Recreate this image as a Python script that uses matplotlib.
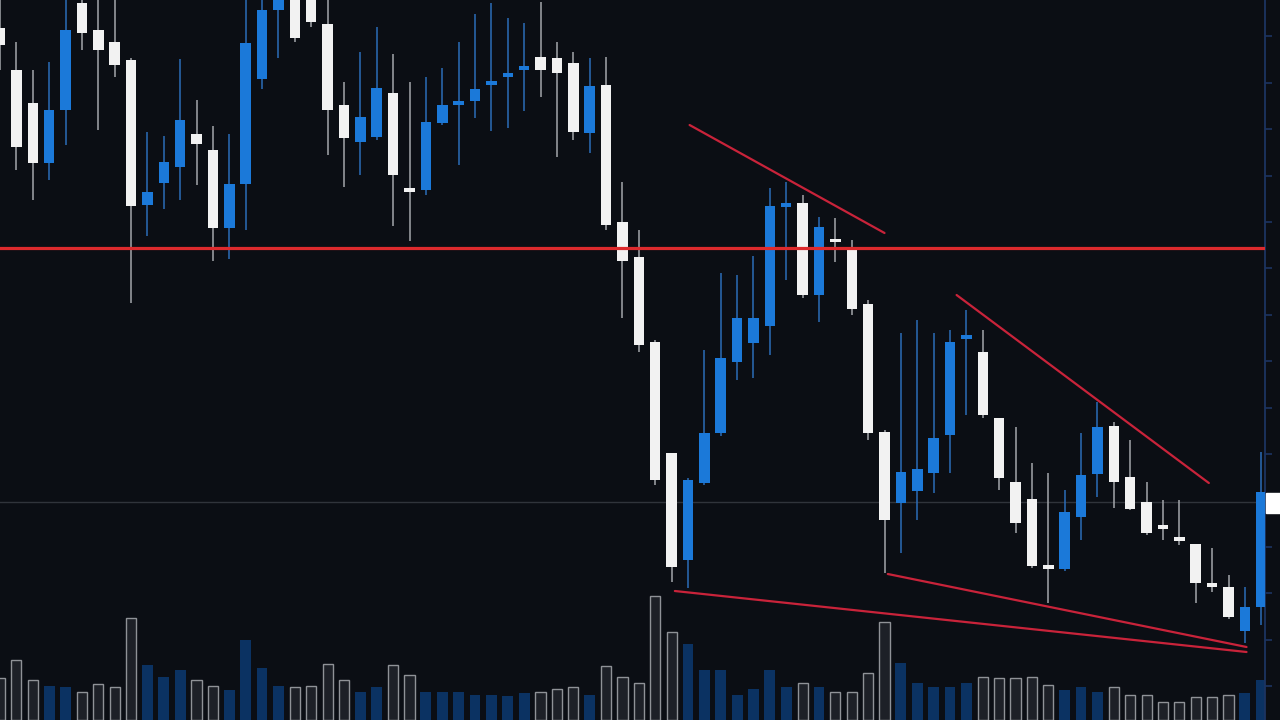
import numpy as np
import matplotlib.pyplot as plt
from matplotlib.patches import Rectangle

BG, WHITE, BLUE = "#0b0e14", "#f2f2f2", "#1b79d9"
WICK_W, WICK_B = "#a3a6ab", "#2b6db8"
VOL_W_EDGE, VOL_W_FACE, VOL_B = "#8f9297", "#1d2027", "#0b3262"
RED, TREND = "#dd2a2d", "#c9233a"
AXIS = "#1c3461"

# OHLC (price units)
opens = [147.2, 143.0, 139.7, 133.7, 139.0, 149.7, 147.0, 145.8, 144.0, 129.5,
         131.7, 133.3, 136.6, 135.0, 127.2, 131.6, 142.1, 149.0, 151.0, 150.5,
         147.6, 139.5, 135.8, 136.3, 140.7, 131.2, 131.0, 137.7, 139.5, 139.9,
         141.5, 142.3, 143.0, 144.3, 144.2, 143.7, 136.7, 141.5, 127.8, 124.3,
         115.8, 104.7, 94.0, 101.7, 106.7, 113.8, 115.7, 117.4, 129.3, 129.7,
         120.5, 126.0, 125.2, 119.6, 106.8, 99.7, 100.9, 102.7, 106.5, 116.1,
         114.8, 108.2, 101.8, 100.1, 93.5, 93.1, 98.3, 102.6, 107.4, 102.3,
         99.8, 97.5, 96.3, 95.6, 91.7, 91.3, 86.9, 89.3]
highs = [151.0, 145.8, 143.0, 143.8, 150.5, 151.0, 152.0, 150.5, 144.2, 136.8,
         136.4, 144.1, 140.0, 137.4, 136.6, 151.0, 151.0, 151.0, 151.5, 151.0,
         150.5, 141.8, 144.8, 147.3, 144.6, 141.8, 142.3, 143.2, 145.8, 148.6,
         149.7, 148.2, 147.7, 149.8, 145.8, 144.8, 144.2, 144.3, 131.8, 127.0,
         116.0, 104.7, 102.2, 115.0, 122.7, 122.5, 124.4, 131.2, 131.8, 130.5,
         128.3, 128.2, 126.0, 120.0, 107.0, 116.7, 118.0, 116.7, 117.0, 119.0,
         117.0, 108.2, 107.3, 103.7, 102.7, 101.0, 106.7, 109.8, 107.8, 106.0,
         101.8, 100.0, 100.0, 95.6, 95.2, 92.5, 91.3, 104.8]
lows = [143.0, 133.0, 130.0, 132.0, 135.5, 145.0, 137.0, 142.3, 119.7, 126.4,
        129.1, 130.0, 131.5, 123.9, 124.1, 127.0, 141.1, 144.2, 145.8, 147.3,
        134.5, 131.3, 132.5, 136.0, 127.4, 125.9, 130.5, 137.5, 133.5, 138.2,
        136.9, 137.2, 138.9, 140.3, 134.3, 136.0, 134.7, 127.0, 118.2, 114.8,
        101.5, 91.8, 91.2, 101.5, 106.4, 112.0, 112.2, 114.5, 122.0, 120.2,
        117.8, 123.8, 118.5, 106.0, 92.7, 94.7, 98.0, 100.7, 102.7, 108.5,
        108.2, 101.0, 96.7, 93.2, 89.7, 92.9, 96.0, 100.3, 99.2, 99.0,
        96.5, 96.0, 95.5, 89.7, 90.8, 88.1, 85.7, 87.5]
closes = [145.5, 135.3, 133.7, 139.0, 147.0, 146.7, 145.0, 143.5, 129.4, 130.8,
          133.8, 138.0, 135.6, 127.2, 131.6, 145.7, 149.0, 150.3, 146.2, 147.8,
          139.0, 136.2, 138.3, 141.2, 132.5, 130.8, 137.8, 139.5, 139.9, 141.1,
          141.9, 142.7, 143.4, 143.0, 142.7, 136.8, 141.4, 127.5, 123.9, 115.5,
          102.0, 93.3, 102.0, 106.7, 114.2, 118.2, 118.2, 129.4, 129.7, 120.5,
          127.3, 125.8, 119.1, 106.7, 98.0, 102.8, 103.1, 106.2, 115.8, 116.5,
          108.5, 102.2, 97.7, 93.4, 93.1, 98.8, 102.5, 107.3, 101.8, 99.1,
          96.7, 97.1, 95.9, 91.7, 91.3, 88.3, 89.3, 100.8]
volumes = [420, 600, 400, 340, 330, 280, 360, 330, 1020, 550,
           430, 500, 400, 340, 300, 800, 520, 340, 330, 340,
           560, 400, 280, 330, 550, 450, 280, 280, 280, 250,
           250, 240, 270, 280, 310, 330, 250, 540, 430, 370,
           1240, 880, 760, 500, 500, 250, 310, 500, 330, 370,
           330, 280, 280, 470, 980, 570, 370, 330, 330, 370,
           430, 420, 420, 430, 350, 300, 330, 280, 330, 250,
           250, 180, 180, 230, 230, 250, 270, 400]

support_level = 125.2
last_price = 99.8
# drawn trendlines: (x0, y0, x1, y1) in bar index / price
trendlines = [(42.1, 137.5, 54.0, 126.7),
              (58.4, 120.5, 73.8, 101.7),
              (41.2, 90.9, 76.1, 84.8),
              (54.2, 92.6, 76.1, 85.3)]

o, h, l, c = map(np.array, (opens, highs, lows, closes))
x = np.arange(len(o))
up = c >= o

fig = plt.figure(figsize=(12.8, 7.2), dpi=100)
fig.patch.set_facecolor(BG)
pos = [0, 0, 1265 / 1280, 1]
xmax = 1265 / 16.38

# volume pane (own scale, same x)
axv = fig.add_axes(pos)
axv.set_facecolor(BG)
axv.set_xlim(0, xmax); axv.set_ylim(0, 7200); axv.axis("off")
axv.bar(x[up], np.array(volumes)[up], width=0.66, color=VOL_B, lw=0)
axv.bar(x[~up], np.array(volumes)[~up], width=0.62, color=VOL_W_FACE,
        edgecolor=VOL_W_EDGE, lw=1.0)

ax = fig.add_axes(pos)
ax.patch.set_alpha(0)
ax.set_xlim(0, xmax); ax.set_ylim(78, 150)
for s in ("top", "left", "bottom"):
    ax.spines[s].set_visible(False)
ax.spines["right"].set_color(AXIS); ax.spines["right"].set_linewidth(1.3)
ax.set_xticks([])
ax.yaxis.tick_right()
ax.set_yticks(np.arange(81.4, 150, 4.64))
ax.tick_params(axis="y", direction="out", length=5, width=1.2, color=AXIS,
               labelright=False, labelleft=False)

ax.axhline(last_price, color="#30343b", lw=1, zorder=1)
ax.axhline(support_level, color=RED, lw=2.3, zorder=5)

# candles
ax.vlines(x[~up], l[~up], h[~up], color=WICK_W, lw=1.1, zorder=2)
ax.vlines(x[up], l[up], h[up], color=WICK_B, lw=1.1, zorder=2)
bot = np.minimum(o, c)
ht = np.maximum(np.abs(c - o), 0.3)
ax.bar(x[~up], ht[~up], bottom=bot[~up], width=0.64, color=WHITE, lw=0, zorder=3)
ax.bar(x[up], ht[up], bottom=bot[up], width=0.64, color=BLUE, lw=0, zorder=3)

for x0, y0, x1, y1 in trendlines:
    ax.plot([x0, x1], [y0, y1], color=TREND, lw=1.6, zorder=6,
            solid_capstyle="round")

# last price label on the axis
fig.patches.append(Rectangle((1266 / 1280, (720 - 513) / 720), 14 / 1280, 20 / 720,
                             transform=fig.transFigure, color="white", zorder=10))

fig.savefig("out.png", dpi=100, facecolor=BG)
